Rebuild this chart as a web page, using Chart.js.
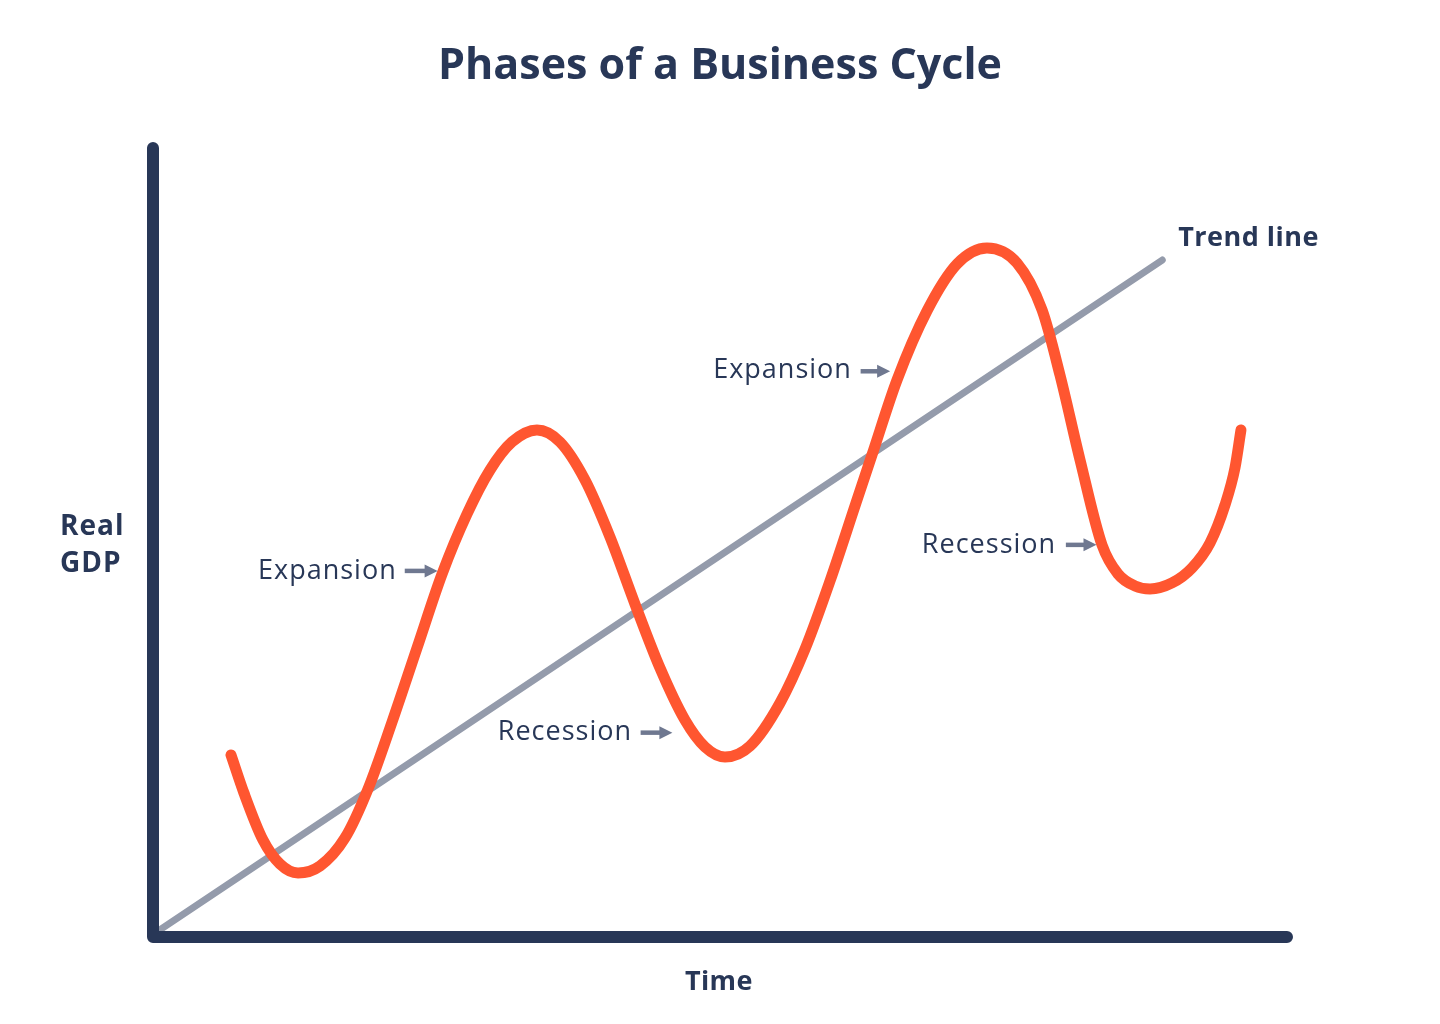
<!DOCTYPE html>
<html>
<head>
<meta charset="utf-8">
<script src="https://cdn.jsdelivr.net/npm/chart.js@4.4.1/dist/chart.umd.min.js"></script>
<style>
  html, body { margin: 0; padding: 0; background: #ffffff; }
  #wrap { width: 1440px; height: 1024px; }
</style>
</head>
<body>
<div id="wrap"><canvas id="c" width="1440" height="1024"></canvas></div>
<script>
// ---- Data (time 0-100, real GDP 0-100, arbitrary units) ----
const cycleTime = [6.88, 8.02, 9.70, 11.20, 12.79, 14.73, 16.93, 18.96, 21.08, 23.28, 25.49, 27.69, 29.72, 31.66, 33.86, 35.89, 38.10, 40.30, 42.50, 44.71, 46.91, 48.68, 50.44, 52.65, 55.29, 57.50, 59.70, 61.99, 63.40, 65.61, 68.25, 70.90, 73.54, 76.19, 78.40, 79.98, 81.75, 83.69, 85.10, 86.60, 87.92, 89.86, 91.62, 93.21, 94.53, 95.41, 95.94];
const cycleGDP  = [23.07, 18.25, 12.29, 9.25, 8.11, 9.00, 12.55, 18.76, 27.25, 36.63, 46.01, 53.61, 59.19, 62.74, 64.26, 62.74, 57.92, 50.70, 42.21, 34.09, 27.50, 24.08, 22.81, 24.21, 29.66, 36.50, 45.12, 55.01, 61.09, 70.60, 79.34, 85.30, 87.33, 85.42, 79.47, 71.23, 60.46, 49.68, 46.01, 44.49, 44.11, 44.87, 46.77, 49.94, 54.75, 59.44, 64.26];
const trendTime = [0.6, 89.0];
const trendGDP  = [0.9, 85.8];
const axisTime  = [0, 0, 100];
const axisGDP   = [100, 0, 0];

const titleText = 'Phases of a Business Cycle';
const yLabelLines = ['Real', 'GDP'];
const xLabelText = 'Time';
const trendLabel = 'Trend line';
const phaseLabels = ['Expansion', 'Recession', 'Expansion', 'Recession'];

const toPts = (xs, ys) => xs.map((x, i) => ({ x: x, y: ys[i] }));

// ---- Styles / placement (kept apart from the data) ----
const NAVY = '#283757';
const ORANGE = '#ff5630';
const GREY = '#949bab';
const ARROW = '#6f7890';
const FONT = '"Open Sans", Lato, sans-serif';

const phasePlacement = [
  { tx: 9.26, ty: 46.4, ax0: 22.2, ax1: 25.1, ay: 46.4 },
  { tx: 30.4, ty: 25.9, ax0: 43.0, ax1: 45.8, ay: 25.9 },
  { tx: 49.4, ty: 71.8, ax0: 62.4, ax1: 65.0, ay: 71.7 },
  { tx: 67.8, ty: 49.7, ax0: 80.5, ax1: 83.2, ay: 49.7 }
];

const textPlugin = {
  id: 'textPlugin',
  afterDatasetsDraw(chart) {
    const { ctx, chartArea, scales } = chart;
    const xs = scales.x, ys = scales.y;
    ctx.save();
    ctx.textBaseline = 'middle';

    // y-axis label
    ctx.fillStyle = NAVY;
    ctx.font = 'bold 28px ' + FONT;
    ctx.letterSpacing = '1px';
    ctx.textAlign = 'left';
    ctx.fillText(yLabelLines[0], chartArea.left - 93, ys.getPixelForValue(52.0));
    ctx.fillText(yLabelLines[1], chartArea.left - 93, ys.getPixelForValue(47.3));

    // x-axis label
    ctx.font = 'bold 27px ' + FONT;
    ctx.letterSpacing = '0.3px';
    ctx.textAlign = 'center';
    ctx.fillText(xLabelText, xs.getPixelForValue(49.9), chartArea.bottom + 45);

    // trend label
    ctx.letterSpacing = '0.5px';
    ctx.textAlign = 'left';
    ctx.fillText(trendLabel, xs.getPixelForValue(90.4), ys.getPixelForValue(88.6));

    // phase labels + arrows
    phaseLabels.forEach((txt, i) => {
      const p = phasePlacement[i];
      ctx.fillStyle = NAVY;
      ctx.font = '27px ' + FONT;
      ctx.letterSpacing = '1px';
      ctx.textAlign = 'left';
      ctx.fillText(txt, xs.getPixelForValue(p.tx), ys.getPixelForValue(p.ty));

      const x0 = xs.getPixelForValue(p.ax0);
      const x1 = xs.getPixelForValue(p.ax1);
      const y = ys.getPixelForValue(p.ay);
      ctx.strokeStyle = ARROW;
      ctx.fillStyle = ARROW;
      ctx.lineWidth = 4.5;
      ctx.lineCap = 'butt';
      ctx.beginPath();
      ctx.moveTo(x0, y);
      ctx.lineTo(x1 - 10, y);
      ctx.stroke();
      ctx.beginPath();
      ctx.moveTo(x1, y);
      ctx.lineTo(x1 - 13, y - 6.5);
      ctx.lineTo(x1 - 13, y + 6.5);
      ctx.closePath();
      ctx.fill();
    });
    ctx.restore();
  }
};

new Chart(document.getElementById('c'), {
  type: 'line',
  data: {
    datasets: [
      {
        label: 'Axes',
        data: toPts(axisTime, axisGDP),
        borderColor: NAVY,
        borderWidth: 12,
        borderCapStyle: 'round',
        borderJoinStyle: 'round',
        pointRadius: 0,
        tension: 0,
        clip: false
      },
      {
        label: 'Business cycle',
        data: toPts(cycleTime, cycleGDP),
        borderColor: ORANGE,
        borderWidth: 11,
        borderCapStyle: 'round',
        borderJoinStyle: 'round',
        pointRadius: 0,
        cubicInterpolationMode: 'monotone',
        clip: false
      },
      {
        label: 'Trend line',
        data: toPts(trendTime, trendGDP),
        borderColor: GREY,
        borderWidth: 7,
        borderCapStyle: 'round',
        pointRadius: 0,
        tension: 0,
        clip: false
      }
    ]
  },
  options: {
    responsive: false,
    animation: false,
    devicePixelRatio: 1,
    layout: { padding: { left: 153, right: 153, top: 0, bottom: 87 } },
    scales: {
      x: { type: 'linear', min: 0, max: 100, display: false },
      y: { type: 'linear', min: 0, max: 100, display: false }
    },
    plugins: {
      legend: { display: false },
      tooltip: { enabled: false },
      title: {
        display: true,
        text: titleText,
        color: NAVY,
        font: { family: FONT, size: 43, weight: 'bold' },
        padding: { top: 41, bottom: 55.4 }
      }
    }
  },
  plugins: [textPlugin]
});
</script>
</body>
</html>
